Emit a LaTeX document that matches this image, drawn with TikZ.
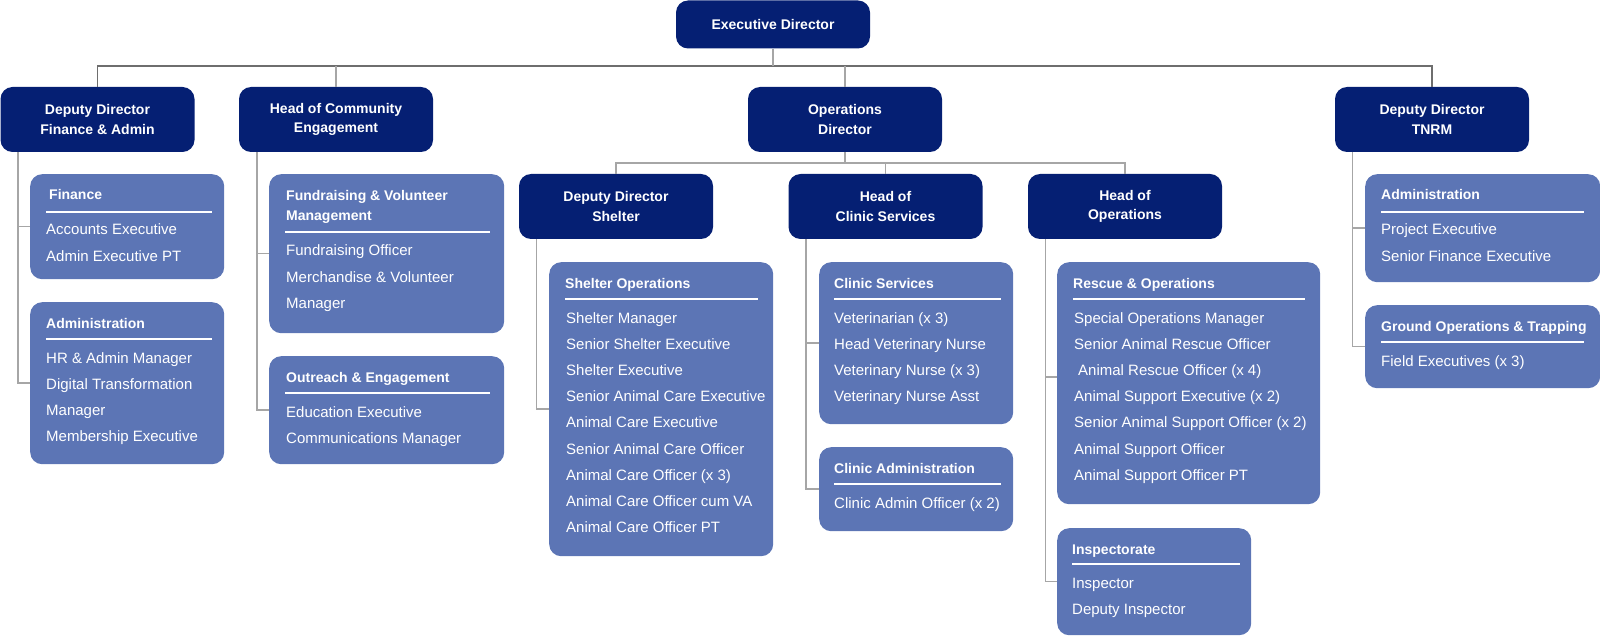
\documentclass[tikz,border=0pt]{standalone}
\usepackage{fontspec}
\setmainfont{Liberation Sans}
\definecolor{leadblue}{HTML}{051F73}
\definecolor{unitblue}{HTML}{5C75B5}
\definecolor{bargray}{HTML}{6E6E6E}
\definecolor{dropgray}{HTML}{A6A6A6}
\tikzset{
  lead/.style={fill=leadblue, rounded corners=12pt, minimum width=194pt, minimum height=65pt,
    inner sep=0pt, text=white, align=center, font=\fontsize{14}{19.5}\selectfont\bfseries},
  unit/.style={fill=unitblue, rounded corners=12pt, anchor=north west, inner sep=0pt},
  unittitle/.style={anchor=base west, inner sep=0pt, text=white, font=\fontsize{14}{19.5}\selectfont\bfseries},
  unititem/.style={anchor=base west, inner sep=0pt, text=white, font=\fontsize{15}{26}\selectfont},
  titlerule/.style={draw=white, line width=1.6pt},
  bar/.style={draw=bargray, line width=1.5pt},
  drop/.style={draw=dropgray, line width=1.5pt},
}
\begin{document}
\begin{tikzpicture}[x=1pt, y=-1pt]
\useasboundingbox (0,0) rectangle (1600,636);
% leaders
\node[lead, minimum height=48] (exec) at (773,24.5) {Executive Director};
\node[lead] (ddf) at (97.5,119.5) {Deputy Director\\Finance \& Admin};
\node[lead] (hce) at (336,119.5) {Head of Community\\Engagement};
\node[lead] (od) at (845,119.5) {Operations\\Director};
\node[lead] (tnrm) at (1432,119.5) {Deputy Director\\TNRM};
\node[lead] (dds) at (616,206.5) {Deputy Director\\Shelter};
\node[lead] (hcs) at (885.5,206.5) {Head of\\Clinic Services};
\node[lead] (hops) at (1125,206.5) {Head of\\Operations};

% reporting lines between leaders
\coordinate (topbar) at (0,66);
\coordinate (midbar) at (0,163);
\draw[bar] (ddf.north) -- (ddf.north |- topbar) -- (tnrm.north |- topbar) -- (tnrm.north);
\draw[drop] (exec.south) -- (exec.south |- topbar);
\draw[drop] (hce.north) -- (hce.north |- topbar);
\draw[drop] (od.north) -- (od.north |- topbar);
\draw[drop] (od.south) -- (od.south |- midbar);
\draw[drop] (dds.north) -- (dds.north |- midbar) -- (hops.north |- midbar) -- (hops.north);
\draw[drop] (hcs.north) -- (hcs.north |- midbar);

% Finance & Admin
\node[unit, minimum width=194, minimum height=105] (finance) at (30,174) {};
\node[unittitle] (finance-title) at ([shift={(16,26)}]finance.north west) {\hspace{3pt}Finance};
\draw[titlerule] ([shift={(16,38)}]finance.north west) -- ([shift={(-12,38)}]finance.north east);
\foreach \txt [count=\i] in {Accounts Executive, Admin Executive PT}
  \node[unititem] (finance-\i) at ([shift={(16,{61+26.2*(\i-1)})}]finance.north west) {\txt};

\node[unit, minimum width=194, minimum height=162] (admin) at (30,302) {};
\node[unittitle] (admin-title) at ([shift={(16,26)}]admin.north west) {Administration};
\draw[titlerule] ([shift={(16,37)}]admin.north west) -- ([shift={(-12,37)}]admin.north east);
\foreach \txt [count=\i] in {HR \& Admin Manager, Digital Transformation, Manager, Membership Executive}
  \node[unititem] (admin-\i) at ([shift={(16,{61+26.2*(\i-1)})}]admin.north west) {\txt};

% Community Engagement
\node[unit, minimum width=235, minimum height=159] (fundraising) at (269,174) {};
\node[unittitle] (fundraising-title) at ([shift={(17,27)}]fundraising.north west) {Fundraising \& Volunteer};
\node[unittitle] (fundraising-title2) at ([shift={(17,46.5)}]fundraising.north west) {Management};
\draw[titlerule] ([shift={(16,58)}]fundraising.north west) -- ([shift={(-14,58)}]fundraising.north east);
\foreach \txt [count=\i] in {Fundraising Officer, Merchandise \& Volunteer, Manager}
  \node[unititem] (fundraising-\i) at ([shift={(17,{82+26.2*(\i-1)})}]fundraising.north west) {\txt};

\node[unit, minimum width=235, minimum height=108] (outreach) at (269,356) {};
\node[unittitle] (outreach-title) at ([shift={(17,26)}]outreach.north west) {Outreach \& Engagement};
\draw[titlerule] ([shift={(16,37)}]outreach.north west) -- ([shift={(-14,37)}]outreach.north east);
\foreach \txt [count=\i] in {Education Executive, Communications Manager}
  \node[unititem] (outreach-\i) at ([shift={(17,{61+26.2*(\i-1)})}]outreach.north west) {\txt};

% Shelter
\node[unit, minimum width=224, minimum height=294] (shelterops) at (549,262) {};
\node[unittitle] (shelterops-title) at ([shift={(16,26)}]shelterops.north west) {Shelter Operations};
\draw[titlerule] ([shift={(16,37)}]shelterops.north west) -- ([shift={(-15,37)}]shelterops.north east);
\foreach \txt [count=\i] in {Shelter Manager, Senior Shelter Executive, Shelter Executive,
    Senior Animal Care Executive, Animal Care Executive, Senior Animal Care Officer,
    Animal Care Officer (x 3), Animal Care Officer cum VA, Animal Care Officer PT}
  \node[unititem] (shelterops-\i) at ([shift={(17,{61+26.2*(\i-1)})}]shelterops.north west) {\txt};

% Clinic
\node[unit, minimum width=194, minimum height=162] (clinicsvc) at (819,262) {};
\node[unittitle] (clinicsvc-title) at ([shift={(15,26)}]clinicsvc.north west) {Clinic Services};
\draw[titlerule] ([shift={(15,37)}]clinicsvc.north west) -- ([shift={(-12,37)}]clinicsvc.north east);
\foreach \txt [count=\i] in {Veterinarian (x 3), Head Veterinary Nurse, Veterinary Nurse (x 3), Veterinary Nurse Asst}
  \node[unititem] (clinicsvc-\i) at ([shift={(15,{61+26.2*(\i-1)})}]clinicsvc.north west) {\txt};

\node[unit, minimum width=194, minimum height=84] (clinicadm) at (819,447) {};
\node[unittitle] (clinicadm-title) at ([shift={(15,26)}]clinicadm.north west) {Clinic Administration};
\draw[titlerule] ([shift={(15,37)}]clinicadm.north west) -- ([shift={(-12,37)}]clinicadm.north east);
\foreach \txt [count=\i] in {Clinic Admin Officer (x 2)}
  \node[unititem] (clinicadm-\i) at ([shift={(15,{61+26.2*(\i-1)})}]clinicadm.north west) {\txt};

% Operations
\node[unit, minimum width=263, minimum height=242] (rescue) at (1057,262) {};
\node[unittitle] (rescue-title) at ([shift={(16,26)}]rescue.north west) {Rescue \& Operations};
\draw[titlerule] ([shift={(16,37)}]rescue.north west) -- ([shift={(-15,37)}]rescue.north east);
\foreach \txt [count=\i] in {Special Operations Manager, Senior Animal Rescue Officer, \hspace{4pt}Animal Rescue Officer (x 4),
    Animal Support Executive (x 2), Senior Animal Support Officer (x 2), Animal Support Officer, Animal Support Officer PT}
  \node[unititem] (rescue-\i) at ([shift={(17,{61+26.2*(\i-1)})}]rescue.north west) {\txt};

\node[unit, minimum width=194, minimum height=107] (inspect) at (1057,528) {};
\node[unittitle] (inspect-title) at ([shift={(15,26)}]inspect.north west) {Inspectorate};
\draw[titlerule] ([shift={(15,36)}]inspect.north west) -- ([shift={(-11,36)}]inspect.north east);
\foreach \txt [count=\i] in {Inspector, Deputy Inspector}
  \node[unititem] (inspect-\i) at ([shift={(15,{60+26.2*(\i-1)})}]inspect.north west) {\txt};

% TNRM
\node[unit, minimum width=235, minimum height=108] (tnrmadmin) at (1365,174) {};
\node[unittitle] (tnrmadmin-title) at ([shift={(16,26)}]tnrmadmin.north west) {Administration};
\draw[titlerule] ([shift={(16,38)}]tnrmadmin.north west) -- ([shift={(-16,38)}]tnrmadmin.north east);
\foreach \txt [count=\i] in {Project Executive, Senior Finance Executive}
  \node[unititem] (tnrmadmin-\i) at ([shift={(16,{61+26.2*(\i-1)})}]tnrmadmin.north west) {\txt};

\node[unit, minimum width=235, minimum height=83] (ground) at (1365,305) {};
\node[unittitle] (ground-title) at ([shift={(16,26)}]ground.north west) {Ground Operations \& Trapping};
\draw[titlerule] ([shift={(16,37)}]ground.north west) -- ([shift={(-16,37)}]ground.north east);
\foreach \txt [count=\i] in {Field Executives (x 3)}
  \node[unititem] (ground-\i) at ([shift={(16,{61+26.2*(\i-1)})}]ground.north west) {\txt};

% leaders to units
\draw[drop] ([xshift=17.5]ddf.south west) |- (finance.west);
\draw[drop] ([xshift=17.5]ddf.south west) |- (admin.west);
\draw[drop] ([xshift=18]hce.south west) |- (fundraising.west);
\draw[drop] ([xshift=18]hce.south west) |- (outreach.west);
\draw[drop] ([xshift=17.5]dds.south west) |- (shelterops.west);
\draw[drop] ([xshift=17.5]hcs.south west) |- (clinicsvc.west);
\draw[drop] ([xshift=17.5]hcs.south west) |- (clinicadm.west);
\draw[drop] ([xshift=17.5]hops.south west) |- ([yshift=6]rescue.west);
\draw[drop] ([xshift=17.5]hops.south west) |- (inspect.west);
\draw[drop] ([xshift=17.5]tnrm.south west) |- (tnrmadmin.west);
\draw[drop] ([xshift=17.5]tnrm.south west) |- (ground.west);
\end{tikzpicture}
\end{document}
